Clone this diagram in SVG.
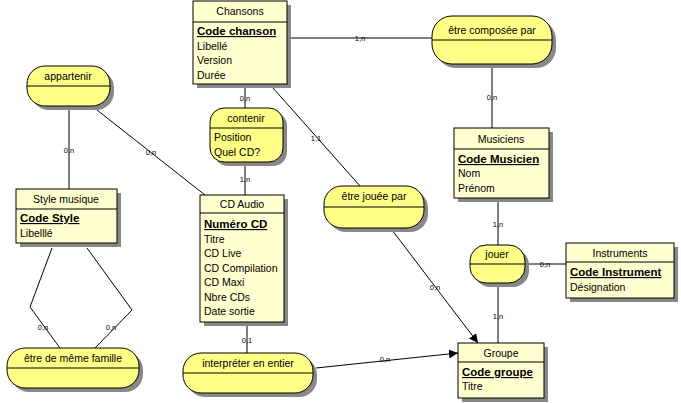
<svg xmlns="http://www.w3.org/2000/svg" width="681" height="403" viewBox="0 0 681 403">
<style>
text{font-family:"Liberation Sans",Arial,sans-serif;font-size:10.5px;fill:#000}
.t{text-anchor:middle}
.k{font-weight:bold;text-decoration:underline;font-size:11.5px}
.ent{fill:#ffffd0;stroke:#000;stroke-width:1}
.asc{fill:#ffff88;stroke:#000;stroke-width:1}
.sh{fill:#888}
.ln{stroke:#000;stroke-width:1;fill:none}
.c{font-size:7.5px;text-anchor:middle}
</style>
<defs>
<marker id="a" viewBox="0 0 10 10" refX="10" refY="5" markerWidth="9" markerHeight="9" orient="auto" markerUnits="userSpaceOnUse"><path d="M0,0L10,5L0,10z" fill="#000"/></marker>
</defs>
<g id="connectors">
<path class="ln" d="M287,38H432"/><text class="c" x="360" y="41">1,n</text>
<path class="ln" d="M492,64V128"/><text class="c" x="492" y="100">0,n</text>
<path class="ln" d="M498,198V245"/><text class="c" x="498" y="227">1,n</text>
<path class="ln" d="M525,264H566"/><text class="c" x="545" y="267">0,n</text>
<path class="ln" d="M498,283V343"/><text class="c" x="498" y="319">1,n</text>
<path class="ln" d="M273,88L360,186"/><text class="c" x="316" y="141">1,1</text>
<path class="ln" d="M392,230L478,343" marker-end="url(#a)"/><text class="c" x="435" y="290">0,n</text>
<path class="ln" d="M245,84V108"/><text class="c" x="245" y="101">0,n</text>
<path class="ln" d="M245,162V195"/><text class="c" x="245" y="182">1,n</text>
<path class="ln" d="M247,322V353"/><text class="c" x="247" y="343">0,1</text>
<path class="ln" d="M316,368L458,353" marker-end="url(#a)"/><text class="c" x="385" y="362">0,n</text>
<path class="ln" d="M69,106V189"/><text class="c" x="69" y="153">0,n</text>
<path class="ln" d="M97,110L205,195"/><text class="c" x="151" y="155">0,n</text>
<path class="ln" d="M52,248L30,307L60,348"/><text class="c" x="43" y="330">0,n</text>
<path class="ln" d="M87,248L132,310L95,348"/><text class="c" x="111" y="330">0,n</text>
</g>
<g id="chansons"><rect class="sh" x="197" y="5" width="94" height="83"/><rect class="ent" x="193" y="1" width="94" height="83"/><path class="ln" d="M193,22H287"/><text class="t" x="240" y="15">Chansons</text><text class="k" x="197" y="35">Code chanson</text><text x="197" y="50">Libellé</text><text x="197" y="64">Version</text><text x="197" y="79">Durée</text></g>
<g id="etre-composee-par"><rect class="sh" x="436" y="20" width="120" height="48" rx="20"/><rect class="asc" x="432" y="16" width="120" height="48" rx="20"/><path class="ln" d="M432,40H552"/><text class="t" x="492" y="34">être composée par</text></g>
<g id="musiciens"><rect class="sh" x="458" y="132" width="95" height="70"/><rect class="ent" x="454" y="128" width="95" height="70"/><path class="ln" d="M454,149H549"/><text class="t" x="501" y="143">Musiciens</text><text class="k" x="458" y="163">Code Musicien</text><text x="458" y="177">Nom</text><text x="458" y="192">Prénom</text></g>
<g id="jouer"><rect class="sh" x="474" y="249" width="55" height="38" rx="16"/><rect class="asc" x="470" y="245" width="55" height="38" rx="16"/><path class="ln" d="M470,264H525"/><text class="t" x="497" y="258">jouer</text></g>
<g id="instruments"><rect class="sh" x="570" y="247" width="108" height="55"/><rect class="ent" x="566" y="243" width="108" height="55"/><path class="ln" d="M566,262H674"/><text class="t" x="620" y="257">Instruments</text><text class="k" x="570" y="276">Code Instrument</text><text x="570" y="291">Désignation</text></g>
<g id="groupe"><rect class="sh" x="462" y="347" width="86" height="55"/><rect class="ent" x="458" y="343" width="86" height="55"/><path class="ln" d="M458,362H544"/><text class="t" x="501" y="357">Groupe</text><text class="k" x="462" y="376">Code groupe</text><text x="462" y="390">Titre</text></g>
<g id="etre-jouee-par"><rect class="sh" x="328" y="190" width="100" height="42" rx="18"/><rect class="asc" x="324" y="186" width="100" height="42" rx="18"/><path class="ln" d="M324,207H424"/><text class="t" x="374" y="200">être jouée par</text></g>
<g id="contenir"><rect class="sh" x="214" y="112" width="73" height="54" rx="14"/><rect class="asc" x="210" y="108" width="73" height="54" rx="14"/><path class="ln" d="M210,128H283"/><text class="t" x="246" y="122">contenir</text><text x="214" y="141">Position</text><text x="214" y="156">Quel CD?</text></g>
<g id="cd-audio"><rect class="sh" x="204" y="199" width="84" height="127"/><rect class="ent" x="200" y="195" width="84" height="127"/><path class="ln" d="M200,213H284"/><text class="t" x="242" y="208">CD Audio</text><text class="k" x="204" y="228">Numéro CD</text><text x="204" y="243">Titre</text><text x="204" y="257">CD Live</text><text x="204" y="272">CD Compilation</text><text x="204" y="286">CD Maxi</text><text x="204" y="301">Nbre CDs</text><text x="204" y="315">Date sortie</text></g>
<g id="interpreter-en-entier"><rect class="sh" x="187" y="357" width="130" height="40" rx="18"/><rect class="asc" x="183" y="353" width="130" height="40" rx="18"/><path class="ln" d="M183,373H313"/><text class="t" x="248" y="367">interpréter en entier</text></g>
<g id="appartenir"><rect class="sh" x="31" y="70" width="83" height="40" rx="18"/><rect class="asc" x="27" y="66" width="83" height="40" rx="18"/><path class="ln" d="M27,86H110"/><text class="t" x="68" y="80">appartenir</text></g>
<g id="style-musique"><rect class="sh" x="20" y="193" width="101" height="54"/><rect class="ent" x="16" y="189" width="101" height="54"/><path class="ln" d="M16,209H117"/><text class="t" x="66" y="203">Style musique</text><text class="k" x="20" y="222">Code Style</text><text x="20" y="237">Libelllé</text></g>
<g id="etre-de-meme-famille"><rect class="sh" x="11" y="352" width="132" height="40" rx="18"/><rect class="asc" x="7" y="348" width="132" height="40" rx="18"/><path class="ln" d="M7,368H139"/><text class="t" x="73" y="362">être de même famille</text></g>
</svg>
